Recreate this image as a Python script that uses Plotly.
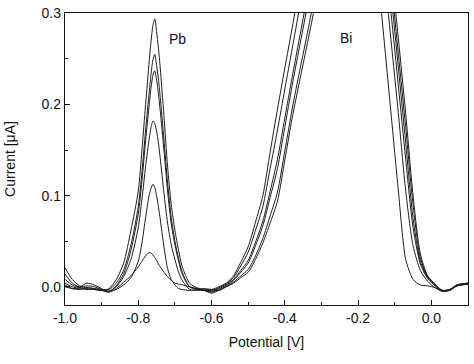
import plotly.graph_objects as go

# Potential grid [V]
potential = [-1.00, -0.98, -0.96, -0.94, -0.92, -0.90,
             -0.88, -0.86, -0.84, -0.82, -0.80, -0.79, -0.78, -0.77, -0.765, -0.76, -0.755,
             -0.75, -0.745, -0.74, -0.73, -0.72, -0.71, -0.70, -0.69, -0.68, -0.66,
             -0.64, -0.62, -0.60,
             -0.58, -0.56, -0.54, -0.52, -0.50, -0.48, -0.46, -0.44, -0.42, -0.40,
             -0.38, -0.36, -0.34, -0.32, -0.30,
             -0.26, -0.22, -0.18,
             -0.15, -0.13, -0.11, -0.09, -0.07, -0.05, -0.03, -0.01, 0.01, 0.03, 0.05, 0.07, 0.10]

# Currents [uA], one list per measurement
current_1 = [0.004, 0.000, -0.002, -0.003, -0.003, -0.004,
             -0.002, 0.008, 0.026, 0.062, 0.105, 0.150, 0.200, 0.248, 0.270, 0.287, 0.294,
             0.280, 0.262, 0.240, 0.188, 0.132, 0.090, 0.062, 0.040, 0.022, 0.004,
             -0.001, -0.003, -0.003,
             0.000, 0.004, 0.012, 0.027, 0.044, 0.071, 0.100, 0.148, 0.195, 0.240,
             0.284, 0.330, 0.378, 0.430, 0.490,
             0.58, 0.63, 0.56,
             0.45, 0.38, 0.30, 0.22, 0.14, 0.065, 0.025, 0.009, 0.001, -0.005, -0.004, 0.001, 0.003]

current_2 = [0.021, 0.008, 0.001, -0.001, -0.002, -0.003,
             -0.003, 0.004, 0.018, 0.046, 0.088, 0.126, 0.172, 0.214, 0.234, 0.249, 0.255,
             0.243, 0.228, 0.208, 0.162, 0.114, 0.076, 0.050, 0.031, 0.016, 0.000,
             -0.003, -0.004, -0.004,
             -0.001, 0.003, 0.010, 0.023, 0.038, 0.062, 0.088, 0.130, 0.172, 0.217,
             0.261, 0.306, 0.352, 0.401, 0.458,
             0.56, 0.60, 0.49,
             0.36, 0.275, 0.19, 0.105, 0.030, 0.008, 0.002, 0.001, -0.001, -0.004, -0.003, 0.001, 0.003]

current_3 = [0.014, 0.004, 0.000, 0.004, 0.002, -0.002,
             -0.005, 0.001, 0.014, 0.040, 0.080, 0.116, 0.160, 0.200, 0.219, 0.232, 0.237,
             0.227, 0.212, 0.193, 0.150, 0.105, 0.069, 0.046, 0.028, 0.014, 0.000,
             -0.002, -0.004, -0.005,
             -0.002, 0.002, 0.008, 0.018, 0.029, 0.049, 0.072, 0.105, 0.140, 0.185,
             0.230, 0.273, 0.316, 0.361, 0.414,
             0.52, 0.60, 0.58,
             0.48, 0.41, 0.335, 0.255, 0.175, 0.090, 0.032, 0.011, 0.003, -0.005, -0.003, 0.002, 0.004]

current_4 = [0.008, 0.002, -0.001, -0.002, -0.003, -0.004,
             -0.005, 0.000, 0.011, 0.030, 0.065, 0.096, 0.132, 0.163, 0.175, 0.182, 0.179,
             0.171, 0.158, 0.141, 0.103, 0.070, 0.046, 0.030, 0.016, 0.007, -0.003,
             -0.004, -0.004, -0.006,
             -0.003, 0.001, 0.007, 0.016, 0.026, 0.045, 0.067, 0.098, 0.130, 0.175,
             0.221, 0.263, 0.305, 0.349, 0.400,
             0.51, 0.58, 0.54,
             0.43, 0.35, 0.27, 0.19, 0.105, 0.045, 0.018, 0.006, -0.001, -0.005, -0.003, 0.002, 0.004]

current_5 = [0.002, -0.002, -0.001, 0.001, 0.000, -0.003,
             -0.005, -0.003, 0.002, 0.010, 0.028, 0.048, 0.076, 0.101, 0.108, 0.1125, 0.109,
             0.100, 0.088, 0.074, 0.044, 0.020, 0.008, 0.002, -0.002, -0.003, -0.004,
             -0.003, -0.002, -0.003,
             -0.004, 0.000, 0.005, 0.012, 0.019, 0.034, 0.053, 0.078, 0.104, 0.149,
             0.195, 0.236, 0.275, 0.317, 0.364,
             0.47, 0.56, 0.56,
             0.46, 0.39, 0.32, 0.24, 0.158, 0.075, 0.028, 0.010, 0.002, -0.004, -0.004, 0.001, 0.003]

current_6 = [0.000, -0.002, -0.003, -0.001, -0.002, -0.004,
             -0.006, -0.002, 0.005, 0.012, 0.022, 0.028, 0.034, 0.0375, 0.037, 0.035, 0.032,
             0.029, 0.025, 0.022, 0.016, 0.011, 0.007, 0.004, 0.003, 0.002, 0.000,
             -0.002, -0.004, -0.007,
             -0.004, 0.000, 0.004, 0.010, 0.016, 0.030, 0.048, 0.070, 0.094, 0.139,
             0.185, 0.225, 0.264, 0.304, 0.350,
             0.45, 0.56, 0.60,
             0.50, 0.42, 0.35, 0.272, 0.19, 0.10, 0.036, 0.012, 0.003, -0.004, -0.003, 0.002, 0.004]

series = [current_1, current_2, current_3, current_4, current_5, current_6]

x_ticks = [-1.0, -0.8, -0.6, -0.4, -0.2, 0.0]
x_tick_labels = ["-1.0", "-0.8", "-0.6", "-0.4", "-0.2", "0.0"]
y_ticks = [0.0, 0.1, 0.2, 0.3]
y_tick_labels = ["0.0", "0.1", "0.2", "0.3"]

peak_labels = ["Pb", "Bi"]
peak_label_x = [-0.692, -0.234]
peak_label_y = [0.272, 0.273]

FONT = "Liberation Sans, Arial, sans-serif"

fig = go.Figure()
for ys in series:
    fig.add_trace(go.Scatter(
        x=potential, y=ys, mode="lines",
        line=dict(color="#1c1c1c", width=1, shape="spline", smoothing=0.7),
        showlegend=False, hoverinfo="skip"))

for t, px, py in zip(peak_labels, peak_label_x, peak_label_y):
    fig.add_annotation(x=px, y=py, text=t, showarrow=False,
                       font=dict(family=FONT, size=14, color="#111"))

fig.update_layout(
    width=474, height=364,
    margin=dict(l=65, r=5, t=7, b=59),
    paper_bgcolor="white", plot_bgcolor="white",
    font=dict(family=FONT, size=14, color="#111"),
)
fig.update_xaxes(
    range=[-1.0, 0.1], tickvals=x_ticks, ticktext=x_tick_labels,
    ticks="inside", ticklen=5, tickwidth=1, tickcolor="#111",
    minor=dict(dtick=0.1, tick0=-1.0, ticks="inside", ticklen=3, tickwidth=1, tickcolor="#111"),
    showline=True, linecolor="#111", linewidth=1.4, mirror=True,
    showgrid=False, zeroline=False, ticklabeloverflow="allow",
    title=dict(text="Potential [V]", standoff=12, font=dict(family=FONT, size=14)),
    tickfont=dict(family=FONT, size=14),
)
fig.update_yaxes(
    range=[-0.02, 0.3004], tickvals=y_ticks, ticktext=y_tick_labels,
    ticks="inside", ticklen=5, tickwidth=1, tickcolor="#111",
    minor=dict(dtick=0.05, tick0=0.0, ticks="inside", ticklen=3, tickwidth=1, tickcolor="#111"),
    showline=True, linecolor="#111", linewidth=1.4, mirror=True,
    showgrid=False, zeroline=False, ticklabeloverflow="allow",
    title=dict(text="Current [μA]", standoff=22, font=dict(family=FONT, size=14)),
    tickfont=dict(family=FONT, size=14),
)

fig.write_html("out.html", config={"displayModeBar": False},
               post_script="document.body.style.margin='0';document.body.style.padding='0';")
